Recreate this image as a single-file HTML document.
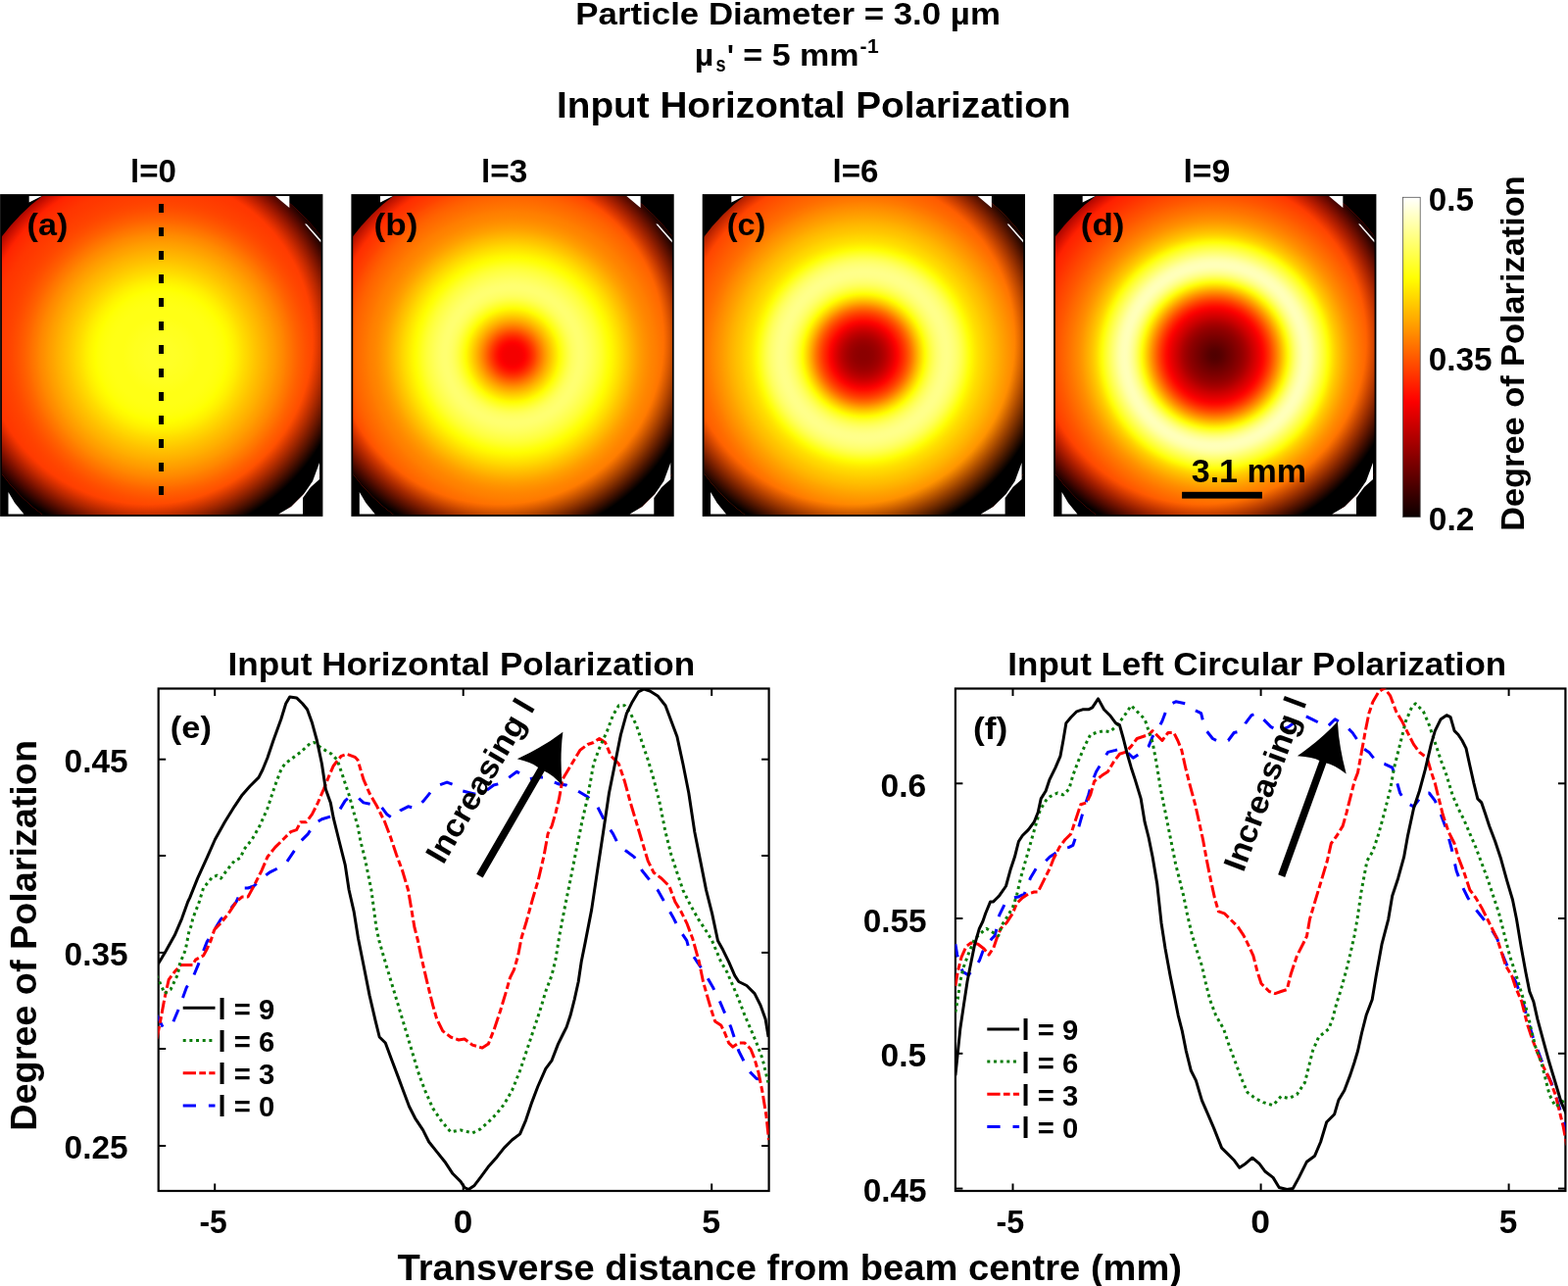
<!DOCTYPE html>
<html><head><meta charset="utf-8"><title>Degree of Polarization</title>
<style>html,body{margin:0;padding:0;background:#fff;width:1600px;height:1312px;overflow:hidden}svg{display:block}</style>
</head><body>
<svg width="1600" height="1312" viewBox="0 0 1600 1312">
<defs>
<radialGradient id="ga" gradientUnits="userSpaceOnUse" cx="164.8" cy="362.5" r="240.0" gradientTransform="translate(0 0.00) scale(1 1.0)"><stop offset="0.0000" stop-color="#ffff22"/><stop offset="0.0104" stop-color="#ffff23"/><stop offset="0.0208" stop-color="#ffff23"/><stop offset="0.0312" stop-color="#ffff25"/><stop offset="0.0417" stop-color="#ffff26"/><stop offset="0.0521" stop-color="#ffff26"/><stop offset="0.0625" stop-color="#ffff25"/><stop offset="0.0729" stop-color="#ffff24"/><stop offset="0.0833" stop-color="#ffff22"/><stop offset="0.0938" stop-color="#ffff21"/><stop offset="0.1042" stop-color="#ffff1f"/><stop offset="0.1146" stop-color="#ffff1f"/><stop offset="0.1250" stop-color="#ffff1d"/><stop offset="0.1354" stop-color="#ffff1b"/><stop offset="0.1458" stop-color="#ffff19"/><stop offset="0.1562" stop-color="#ffff17"/><stop offset="0.1667" stop-color="#ffff15"/><stop offset="0.1771" stop-color="#ffff15"/><stop offset="0.1875" stop-color="#ffff15"/><stop offset="0.1979" stop-color="#ffff15"/><stop offset="0.2083" stop-color="#ffff15"/><stop offset="0.2188" stop-color="#ffff14"/><stop offset="0.2292" stop-color="#ffff12"/><stop offset="0.2396" stop-color="#ffff10"/><stop offset="0.2500" stop-color="#ffff0d"/><stop offset="0.2604" stop-color="#ffff0a"/><stop offset="0.2708" stop-color="#ffff06"/><stop offset="0.2812" stop-color="#ffff00"/><stop offset="0.2917" stop-color="#fffb00"/><stop offset="0.3021" stop-color="#fff700"/><stop offset="0.3125" stop-color="#fff200"/><stop offset="0.3229" stop-color="#ffed00"/><stop offset="0.3333" stop-color="#ffe700"/><stop offset="0.3438" stop-color="#ffe100"/><stop offset="0.3542" stop-color="#ffdb00"/><stop offset="0.3646" stop-color="#ffd600"/><stop offset="0.3750" stop-color="#ffd000"/><stop offset="0.3854" stop-color="#ffcb00"/><stop offset="0.3958" stop-color="#ffc500"/><stop offset="0.4062" stop-color="#ffc000"/><stop offset="0.4167" stop-color="#ffbb00"/><stop offset="0.4271" stop-color="#ffb600"/><stop offset="0.4375" stop-color="#ffb100"/><stop offset="0.4479" stop-color="#ffac00"/><stop offset="0.4583" stop-color="#ffa600"/><stop offset="0.4688" stop-color="#ffa100"/><stop offset="0.4792" stop-color="#ff9c00"/><stop offset="0.4896" stop-color="#ff9600"/><stop offset="0.5000" stop-color="#ff9000"/><stop offset="0.5104" stop-color="#ff8b00"/><stop offset="0.5208" stop-color="#ff8500"/><stop offset="0.5312" stop-color="#ff7e00"/><stop offset="0.5417" stop-color="#ff7800"/><stop offset="0.5521" stop-color="#ff7200"/><stop offset="0.5625" stop-color="#ff6b00"/><stop offset="0.5729" stop-color="#ff6500"/><stop offset="0.5833" stop-color="#ff5f00"/><stop offset="0.5938" stop-color="#ff5a00"/><stop offset="0.6042" stop-color="#ff5500"/><stop offset="0.6146" stop-color="#ff5000"/><stop offset="0.6250" stop-color="#ff4c00"/><stop offset="0.6354" stop-color="#ff4800"/><stop offset="0.6458" stop-color="#ff4500"/><stop offset="0.6562" stop-color="#ff4200"/><stop offset="0.6667" stop-color="#ff4000"/><stop offset="0.6771" stop-color="#ff3e00"/><stop offset="0.6875" stop-color="#ff3c00"/><stop offset="0.6979" stop-color="#ff3a00"/><stop offset="0.7083" stop-color="#ff3800"/><stop offset="0.7188" stop-color="#ff3700"/><stop offset="0.7292" stop-color="#ff3500"/><stop offset="0.7396" stop-color="#ff3200"/><stop offset="0.7500" stop-color="#ff2f00"/><stop offset="0.7604" stop-color="#ff2c00"/><stop offset="0.7708" stop-color="#ff2900"/><stop offset="0.7812" stop-color="#ff2500"/><stop offset="0.7917" stop-color="#ff2100"/><stop offset="0.8021" stop-color="#ff1d00"/><stop offset="0.8125" stop-color="#ff1900"/><stop offset="0.8229" stop-color="#ff1500"/><stop offset="0.8333" stop-color="#ff1000"/><stop offset="0.8438" stop-color="#ff0c00"/><stop offset="0.8542" stop-color="#ff0800"/><stop offset="0.8646" stop-color="#ff0400"/><stop offset="0.8750" stop-color="#ff0000"/><stop offset="0.8854" stop-color="#fa0000"/><stop offset="0.8958" stop-color="#f60000"/><stop offset="0.9062" stop-color="#f20000"/><stop offset="0.9167" stop-color="#ee0000"/><stop offset="0.9271" stop-color="#ea0000"/><stop offset="0.9375" stop-color="#e50000"/><stop offset="0.9479" stop-color="#e30000"/><stop offset="0.9583" stop-color="#e10000"/><stop offset="0.9688" stop-color="#df0000"/><stop offset="0.9792" stop-color="#dd0000"/><stop offset="0.9896" stop-color="#db0000"/><stop offset="1.0000" stop-color="#d90000"/></radialGradient>
<radialGradient id="va" gradientUnits="userSpaceOnUse" cx="150.8" cy="346.5" r="220"><stop offset="0" stop-color="#000" stop-opacity="0"/><stop offset="0.7636" stop-color="#000" stop-opacity="0.000"/><stop offset="0.7723" stop-color="#000" stop-opacity="0.037"/><stop offset="0.7809" stop-color="#000" stop-opacity="0.079"/><stop offset="0.7895" stop-color="#000" stop-opacity="0.124"/><stop offset="0.7982" stop-color="#000" stop-opacity="0.170"/><stop offset="0.8068" stop-color="#000" stop-opacity="0.218"/><stop offset="0.8155" stop-color="#000" stop-opacity="0.266"/><stop offset="0.8241" stop-color="#000" stop-opacity="0.315"/><stop offset="0.8327" stop-color="#000" stop-opacity="0.365"/><stop offset="0.8414" stop-color="#000" stop-opacity="0.415"/><stop offset="0.8500" stop-color="#000" stop-opacity="0.467"/><stop offset="0.8586" stop-color="#000" stop-opacity="0.518"/><stop offset="0.8673" stop-color="#000" stop-opacity="0.570"/><stop offset="0.8759" stop-color="#000" stop-opacity="0.623"/><stop offset="0.8845" stop-color="#000" stop-opacity="0.675"/><stop offset="0.8932" stop-color="#000" stop-opacity="0.729"/><stop offset="0.9018" stop-color="#000" stop-opacity="0.782"/><stop offset="0.9105" stop-color="#000" stop-opacity="0.836"/><stop offset="0.9191" stop-color="#000" stop-opacity="0.891"/><stop offset="0.9277" stop-color="#000" stop-opacity="0.945"/><stop offset="0.9364" stop-color="#000" stop-opacity="1.000"/></radialGradient>
<clipPath id="ca"><rect x="1.0" y="199.0" width="327.5" height="327.0"/></clipPath>
<radialGradient id="gb" gradientUnits="userSpaceOnUse" cx="523.0" cy="362.5" r="240.0" gradientTransform="translate(0 0.00) scale(1 1.0)"><stop offset="0.0000" stop-color="#f40000"/><stop offset="0.0104" stop-color="#f40000"/><stop offset="0.0208" stop-color="#f40000"/><stop offset="0.0312" stop-color="#f50000"/><stop offset="0.0417" stop-color="#f80000"/><stop offset="0.0521" stop-color="#ff0100"/><stop offset="0.0625" stop-color="#ff0c00"/><stop offset="0.0729" stop-color="#ff1b00"/><stop offset="0.0833" stop-color="#ff2d00"/><stop offset="0.0938" stop-color="#ff4000"/><stop offset="0.1042" stop-color="#ff5600"/><stop offset="0.1146" stop-color="#ff6b00"/><stop offset="0.1250" stop-color="#ff8000"/><stop offset="0.1354" stop-color="#ff9400"/><stop offset="0.1458" stop-color="#ffa700"/><stop offset="0.1562" stop-color="#ffb900"/><stop offset="0.1667" stop-color="#ffca00"/><stop offset="0.1771" stop-color="#ffdb00"/><stop offset="0.1875" stop-color="#ffeb00"/><stop offset="0.1979" stop-color="#fffc00"/><stop offset="0.2083" stop-color="#ffff13"/><stop offset="0.2188" stop-color="#ffff28"/><stop offset="0.2292" stop-color="#ffff3c"/><stop offset="0.2396" stop-color="#ffff4e"/><stop offset="0.2500" stop-color="#ffff5c"/><stop offset="0.2604" stop-color="#ffff66"/><stop offset="0.2708" stop-color="#ffff6c"/><stop offset="0.2812" stop-color="#ffff71"/><stop offset="0.2917" stop-color="#ffff71"/><stop offset="0.3021" stop-color="#ffff6e"/><stop offset="0.3125" stop-color="#ffff68"/><stop offset="0.3229" stop-color="#ffff61"/><stop offset="0.3333" stop-color="#ffff59"/><stop offset="0.3438" stop-color="#ffff50"/><stop offset="0.3542" stop-color="#ffff47"/><stop offset="0.3646" stop-color="#ffff3d"/><stop offset="0.3750" stop-color="#ffff31"/><stop offset="0.3854" stop-color="#ffff24"/><stop offset="0.3958" stop-color="#ffff15"/><stop offset="0.4062" stop-color="#ffff08"/><stop offset="0.4167" stop-color="#fffc00"/><stop offset="0.4271" stop-color="#fff500"/><stop offset="0.4375" stop-color="#ffed00"/><stop offset="0.4479" stop-color="#ffe500"/><stop offset="0.4583" stop-color="#ffdd00"/><stop offset="0.4688" stop-color="#ffd500"/><stop offset="0.4792" stop-color="#ffcc00"/><stop offset="0.4896" stop-color="#ffc400"/><stop offset="0.5000" stop-color="#ffbc00"/><stop offset="0.5104" stop-color="#ffb400"/><stop offset="0.5208" stop-color="#ffac00"/><stop offset="0.5312" stop-color="#ffa400"/><stop offset="0.5417" stop-color="#ff9d00"/><stop offset="0.5521" stop-color="#ff9700"/><stop offset="0.5625" stop-color="#ff9100"/><stop offset="0.5729" stop-color="#ff8c00"/><stop offset="0.5833" stop-color="#ff8700"/><stop offset="0.5938" stop-color="#ff8300"/><stop offset="0.6042" stop-color="#ff8000"/><stop offset="0.6146" stop-color="#ff7c00"/><stop offset="0.6250" stop-color="#ff7700"/><stop offset="0.6354" stop-color="#ff7300"/><stop offset="0.6458" stop-color="#ff6f00"/><stop offset="0.6562" stop-color="#ff6b00"/><stop offset="0.6667" stop-color="#ff6700"/><stop offset="0.6771" stop-color="#ff6300"/><stop offset="0.6875" stop-color="#ff5e00"/><stop offset="0.6979" stop-color="#ff5900"/><stop offset="0.7083" stop-color="#ff5300"/><stop offset="0.7188" stop-color="#ff4e00"/><stop offset="0.7292" stop-color="#ff4700"/><stop offset="0.7396" stop-color="#ff4100"/><stop offset="0.7500" stop-color="#ff3d00"/><stop offset="0.7604" stop-color="#ff3800"/><stop offset="0.7708" stop-color="#ff3400"/><stop offset="0.7812" stop-color="#ff3000"/><stop offset="0.7917" stop-color="#ff2c00"/><stop offset="0.8021" stop-color="#ff2800"/><stop offset="0.8125" stop-color="#ff2300"/><stop offset="0.8229" stop-color="#ff1f00"/><stop offset="0.8333" stop-color="#ff1b00"/><stop offset="0.8438" stop-color="#ff1700"/><stop offset="0.8542" stop-color="#ff1300"/><stop offset="0.8646" stop-color="#ff0f00"/><stop offset="0.8750" stop-color="#ff0a00"/><stop offset="0.8854" stop-color="#ff0600"/><stop offset="0.8958" stop-color="#ff0200"/><stop offset="0.9062" stop-color="#fd0000"/><stop offset="0.9167" stop-color="#f90000"/><stop offset="0.9271" stop-color="#f40000"/><stop offset="0.9375" stop-color="#f00000"/><stop offset="0.9479" stop-color="#ee0000"/><stop offset="0.9583" stop-color="#ec0000"/><stop offset="0.9688" stop-color="#ea0000"/><stop offset="0.9792" stop-color="#e80000"/><stop offset="0.9896" stop-color="#e60000"/><stop offset="1.0000" stop-color="#e40000"/></radialGradient>
<radialGradient id="vb" gradientUnits="userSpaceOnUse" cx="509.0" cy="346.5" r="220"><stop offset="0" stop-color="#000" stop-opacity="0"/><stop offset="0.7636" stop-color="#000" stop-opacity="0.000"/><stop offset="0.7723" stop-color="#000" stop-opacity="0.037"/><stop offset="0.7809" stop-color="#000" stop-opacity="0.079"/><stop offset="0.7895" stop-color="#000" stop-opacity="0.124"/><stop offset="0.7982" stop-color="#000" stop-opacity="0.170"/><stop offset="0.8068" stop-color="#000" stop-opacity="0.218"/><stop offset="0.8155" stop-color="#000" stop-opacity="0.266"/><stop offset="0.8241" stop-color="#000" stop-opacity="0.315"/><stop offset="0.8327" stop-color="#000" stop-opacity="0.365"/><stop offset="0.8414" stop-color="#000" stop-opacity="0.415"/><stop offset="0.8500" stop-color="#000" stop-opacity="0.467"/><stop offset="0.8586" stop-color="#000" stop-opacity="0.518"/><stop offset="0.8673" stop-color="#000" stop-opacity="0.570"/><stop offset="0.8759" stop-color="#000" stop-opacity="0.623"/><stop offset="0.8845" stop-color="#000" stop-opacity="0.675"/><stop offset="0.8932" stop-color="#000" stop-opacity="0.729"/><stop offset="0.9018" stop-color="#000" stop-opacity="0.782"/><stop offset="0.9105" stop-color="#000" stop-opacity="0.836"/><stop offset="0.9191" stop-color="#000" stop-opacity="0.891"/><stop offset="0.9277" stop-color="#000" stop-opacity="0.945"/><stop offset="0.9364" stop-color="#000" stop-opacity="1.000"/></radialGradient>
<clipPath id="cb"><rect x="359.3" y="199.0" width="327.5" height="327.0"/></clipPath>
<radialGradient id="gc" gradientUnits="userSpaceOnUse" cx="881.4" cy="362.5" r="240.0" gradientTransform="translate(0 0.00) scale(1 1.0)"><stop offset="0.0000" stop-color="#8b0000"/><stop offset="0.0104" stop-color="#8b0000"/><stop offset="0.0208" stop-color="#8c0000"/><stop offset="0.0312" stop-color="#8f0000"/><stop offset="0.0417" stop-color="#920000"/><stop offset="0.0521" stop-color="#980000"/><stop offset="0.0625" stop-color="#9e0000"/><stop offset="0.0729" stop-color="#a60000"/><stop offset="0.0833" stop-color="#b00000"/><stop offset="0.0938" stop-color="#bb0000"/><stop offset="0.1042" stop-color="#c80000"/><stop offset="0.1146" stop-color="#d60000"/><stop offset="0.1250" stop-color="#e50000"/><stop offset="0.1354" stop-color="#f60000"/><stop offset="0.1458" stop-color="#ff0700"/><stop offset="0.1562" stop-color="#ff1900"/><stop offset="0.1667" stop-color="#ff2a00"/><stop offset="0.1771" stop-color="#ff3d00"/><stop offset="0.1875" stop-color="#ff5200"/><stop offset="0.1979" stop-color="#ff6900"/><stop offset="0.2083" stop-color="#ff8200"/><stop offset="0.2188" stop-color="#ff9d00"/><stop offset="0.2292" stop-color="#ffb700"/><stop offset="0.2396" stop-color="#ffd000"/><stop offset="0.2500" stop-color="#ffe800"/><stop offset="0.2604" stop-color="#fffe00"/><stop offset="0.2708" stop-color="#ffff1e"/><stop offset="0.2812" stop-color="#ffff39"/><stop offset="0.2917" stop-color="#ffff50"/><stop offset="0.3021" stop-color="#ffff63"/><stop offset="0.3125" stop-color="#ffff72"/><stop offset="0.3229" stop-color="#ffff7d"/><stop offset="0.3333" stop-color="#ffff86"/><stop offset="0.3438" stop-color="#ffff8a"/><stop offset="0.3542" stop-color="#ffff8b"/><stop offset="0.3646" stop-color="#ffff87"/><stop offset="0.3750" stop-color="#ffff80"/><stop offset="0.3854" stop-color="#ffff77"/><stop offset="0.3958" stop-color="#ffff6b"/><stop offset="0.4062" stop-color="#ffff5c"/><stop offset="0.4167" stop-color="#ffff4a"/><stop offset="0.4271" stop-color="#ffff35"/><stop offset="0.4375" stop-color="#ffff1f"/><stop offset="0.4479" stop-color="#ffff09"/><stop offset="0.4583" stop-color="#fff800"/><stop offset="0.4688" stop-color="#ffee00"/><stop offset="0.4792" stop-color="#ffe500"/><stop offset="0.4896" stop-color="#ffdd00"/><stop offset="0.5000" stop-color="#ffd700"/><stop offset="0.5104" stop-color="#ffd100"/><stop offset="0.5208" stop-color="#ffca00"/><stop offset="0.5312" stop-color="#ffc400"/><stop offset="0.5417" stop-color="#ffbf00"/><stop offset="0.5521" stop-color="#ffb900"/><stop offset="0.5625" stop-color="#ffb300"/><stop offset="0.5729" stop-color="#ffad00"/><stop offset="0.5833" stop-color="#ffa600"/><stop offset="0.5938" stop-color="#ffa000"/><stop offset="0.6042" stop-color="#ff9a00"/><stop offset="0.6146" stop-color="#ff9400"/><stop offset="0.6250" stop-color="#ff8e00"/><stop offset="0.6354" stop-color="#ff8800"/><stop offset="0.6458" stop-color="#ff8200"/><stop offset="0.6562" stop-color="#ff7b00"/><stop offset="0.6667" stop-color="#ff7600"/><stop offset="0.6771" stop-color="#ff7000"/><stop offset="0.6875" stop-color="#ff6b00"/><stop offset="0.6979" stop-color="#ff6700"/><stop offset="0.7083" stop-color="#ff6300"/><stop offset="0.7188" stop-color="#ff5f00"/><stop offset="0.7292" stop-color="#ff5b00"/><stop offset="0.7396" stop-color="#ff5700"/><stop offset="0.7500" stop-color="#ff5300"/><stop offset="0.7604" stop-color="#ff4f00"/><stop offset="0.7708" stop-color="#ff4b00"/><stop offset="0.7812" stop-color="#ff4700"/><stop offset="0.7917" stop-color="#ff4300"/><stop offset="0.8021" stop-color="#ff3e00"/><stop offset="0.8125" stop-color="#ff3a00"/><stop offset="0.8229" stop-color="#ff3600"/><stop offset="0.8333" stop-color="#ff3200"/><stop offset="0.8438" stop-color="#ff2e00"/><stop offset="0.8542" stop-color="#ff2900"/><stop offset="0.8646" stop-color="#ff2500"/><stop offset="0.8750" stop-color="#ff2100"/><stop offset="0.8854" stop-color="#ff1d00"/><stop offset="0.8958" stop-color="#ff1900"/><stop offset="0.9062" stop-color="#ff1400"/><stop offset="0.9167" stop-color="#ff1000"/><stop offset="0.9271" stop-color="#ff0c00"/><stop offset="0.9375" stop-color="#ff0800"/><stop offset="0.9479" stop-color="#ff0600"/><stop offset="0.9583" stop-color="#ff0400"/><stop offset="0.9688" stop-color="#ff0200"/><stop offset="0.9792" stop-color="#ff0000"/><stop offset="0.9896" stop-color="#fc0000"/><stop offset="1.0000" stop-color="#fa0000"/></radialGradient>
<radialGradient id="vc" gradientUnits="userSpaceOnUse" cx="867.4" cy="346.5" r="220"><stop offset="0" stop-color="#000" stop-opacity="0"/><stop offset="0.7636" stop-color="#000" stop-opacity="0.000"/><stop offset="0.7723" stop-color="#000" stop-opacity="0.037"/><stop offset="0.7809" stop-color="#000" stop-opacity="0.079"/><stop offset="0.7895" stop-color="#000" stop-opacity="0.124"/><stop offset="0.7982" stop-color="#000" stop-opacity="0.170"/><stop offset="0.8068" stop-color="#000" stop-opacity="0.218"/><stop offset="0.8155" stop-color="#000" stop-opacity="0.266"/><stop offset="0.8241" stop-color="#000" stop-opacity="0.315"/><stop offset="0.8327" stop-color="#000" stop-opacity="0.365"/><stop offset="0.8414" stop-color="#000" stop-opacity="0.415"/><stop offset="0.8500" stop-color="#000" stop-opacity="0.467"/><stop offset="0.8586" stop-color="#000" stop-opacity="0.518"/><stop offset="0.8673" stop-color="#000" stop-opacity="0.570"/><stop offset="0.8759" stop-color="#000" stop-opacity="0.623"/><stop offset="0.8845" stop-color="#000" stop-opacity="0.675"/><stop offset="0.8932" stop-color="#000" stop-opacity="0.729"/><stop offset="0.9018" stop-color="#000" stop-opacity="0.782"/><stop offset="0.9105" stop-color="#000" stop-opacity="0.836"/><stop offset="0.9191" stop-color="#000" stop-opacity="0.891"/><stop offset="0.9277" stop-color="#000" stop-opacity="0.945"/><stop offset="0.9364" stop-color="#000" stop-opacity="1.000"/></radialGradient>
<clipPath id="cc"><rect x="717.6" y="199.0" width="327.5" height="327.0"/></clipPath>
<radialGradient id="gd" gradientUnits="userSpaceOnUse" cx="1239.8" cy="362.5" r="240.0" gradientTransform="translate(0 0.00) scale(1 1.0)"><stop offset="0.0000" stop-color="#4f0000"/><stop offset="0.0104" stop-color="#510000"/><stop offset="0.0208" stop-color="#540000"/><stop offset="0.0312" stop-color="#590000"/><stop offset="0.0417" stop-color="#600000"/><stop offset="0.0521" stop-color="#670000"/><stop offset="0.0625" stop-color="#6e0000"/><stop offset="0.0729" stop-color="#750000"/><stop offset="0.0833" stop-color="#7c0000"/><stop offset="0.0938" stop-color="#840000"/><stop offset="0.1042" stop-color="#8b0000"/><stop offset="0.1146" stop-color="#940000"/><stop offset="0.1250" stop-color="#9e0000"/><stop offset="0.1354" stop-color="#a90000"/><stop offset="0.1458" stop-color="#b60000"/><stop offset="0.1562" stop-color="#c40000"/><stop offset="0.1667" stop-color="#d10000"/><stop offset="0.1771" stop-color="#de0000"/><stop offset="0.1875" stop-color="#eb0000"/><stop offset="0.1979" stop-color="#fa0000"/><stop offset="0.2083" stop-color="#ff0b00"/><stop offset="0.2188" stop-color="#ff1e00"/><stop offset="0.2292" stop-color="#ff3300"/><stop offset="0.2396" stop-color="#ff4a00"/><stop offset="0.2500" stop-color="#ff6300"/><stop offset="0.2604" stop-color="#ff7d00"/><stop offset="0.2708" stop-color="#ff9700"/><stop offset="0.2812" stop-color="#ffb300"/><stop offset="0.2917" stop-color="#ffcf00"/><stop offset="0.3021" stop-color="#ffeb00"/><stop offset="0.3125" stop-color="#ffff0e"/><stop offset="0.3229" stop-color="#ffff37"/><stop offset="0.3333" stop-color="#ffff5e"/><stop offset="0.3438" stop-color="#ffff7f"/><stop offset="0.3542" stop-color="#ffff98"/><stop offset="0.3646" stop-color="#ffffab"/><stop offset="0.3750" stop-color="#ffffb8"/><stop offset="0.3854" stop-color="#ffffbb"/><stop offset="0.3958" stop-color="#ffffb6"/><stop offset="0.4062" stop-color="#ffffab"/><stop offset="0.4167" stop-color="#ffff99"/><stop offset="0.4271" stop-color="#ffff83"/><stop offset="0.4375" stop-color="#ffff6d"/><stop offset="0.4479" stop-color="#ffff56"/><stop offset="0.4583" stop-color="#ffff3e"/><stop offset="0.4688" stop-color="#ffff25"/><stop offset="0.4792" stop-color="#ffff0a"/><stop offset="0.4896" stop-color="#fff300"/><stop offset="0.5000" stop-color="#ffe100"/><stop offset="0.5104" stop-color="#ffd200"/><stop offset="0.5208" stop-color="#ffc500"/><stop offset="0.5312" stop-color="#ffba00"/><stop offset="0.5417" stop-color="#ffaf00"/><stop offset="0.5521" stop-color="#ffa500"/><stop offset="0.5625" stop-color="#ff9b00"/><stop offset="0.5729" stop-color="#ff9200"/><stop offset="0.5833" stop-color="#ff8a00"/><stop offset="0.5938" stop-color="#ff8300"/><stop offset="0.6042" stop-color="#ff7c00"/><stop offset="0.6146" stop-color="#ff7500"/><stop offset="0.6250" stop-color="#ff6f00"/><stop offset="0.6354" stop-color="#ff6900"/><stop offset="0.6458" stop-color="#ff6300"/><stop offset="0.6562" stop-color="#ff5d00"/><stop offset="0.6667" stop-color="#ff5700"/><stop offset="0.6771" stop-color="#ff5200"/><stop offset="0.6875" stop-color="#ff4d00"/><stop offset="0.6979" stop-color="#ff4800"/><stop offset="0.7083" stop-color="#ff4300"/><stop offset="0.7188" stop-color="#ff3e00"/><stop offset="0.7292" stop-color="#ff3900"/><stop offset="0.7396" stop-color="#ff3400"/><stop offset="0.7500" stop-color="#ff2f00"/><stop offset="0.7604" stop-color="#ff2b00"/><stop offset="0.7708" stop-color="#ff2700"/><stop offset="0.7812" stop-color="#ff2300"/><stop offset="0.7917" stop-color="#ff1f00"/><stop offset="0.8021" stop-color="#ff1a00"/><stop offset="0.8125" stop-color="#ff1600"/><stop offset="0.8229" stop-color="#ff1200"/><stop offset="0.8333" stop-color="#ff0e00"/><stop offset="0.8438" stop-color="#ff0a00"/><stop offset="0.8542" stop-color="#ff0600"/><stop offset="0.8646" stop-color="#ff0100"/><stop offset="0.8750" stop-color="#fc0000"/><stop offset="0.8854" stop-color="#f80000"/><stop offset="0.8958" stop-color="#f40000"/><stop offset="0.9062" stop-color="#f00000"/><stop offset="0.9167" stop-color="#eb0000"/><stop offset="0.9271" stop-color="#e70000"/><stop offset="0.9375" stop-color="#e30000"/><stop offset="0.9479" stop-color="#e10000"/><stop offset="0.9583" stop-color="#df0000"/><stop offset="0.9688" stop-color="#dd0000"/><stop offset="0.9792" stop-color="#db0000"/><stop offset="0.9896" stop-color="#d80000"/><stop offset="1.0000" stop-color="#d60000"/></radialGradient>
<radialGradient id="vd" gradientUnits="userSpaceOnUse" cx="1225.8" cy="346.5" r="220"><stop offset="0" stop-color="#000" stop-opacity="0"/><stop offset="0.7636" stop-color="#000" stop-opacity="0.000"/><stop offset="0.7723" stop-color="#000" stop-opacity="0.037"/><stop offset="0.7809" stop-color="#000" stop-opacity="0.079"/><stop offset="0.7895" stop-color="#000" stop-opacity="0.124"/><stop offset="0.7982" stop-color="#000" stop-opacity="0.170"/><stop offset="0.8068" stop-color="#000" stop-opacity="0.218"/><stop offset="0.8155" stop-color="#000" stop-opacity="0.266"/><stop offset="0.8241" stop-color="#000" stop-opacity="0.315"/><stop offset="0.8327" stop-color="#000" stop-opacity="0.365"/><stop offset="0.8414" stop-color="#000" stop-opacity="0.415"/><stop offset="0.8500" stop-color="#000" stop-opacity="0.467"/><stop offset="0.8586" stop-color="#000" stop-opacity="0.518"/><stop offset="0.8673" stop-color="#000" stop-opacity="0.570"/><stop offset="0.8759" stop-color="#000" stop-opacity="0.623"/><stop offset="0.8845" stop-color="#000" stop-opacity="0.675"/><stop offset="0.8932" stop-color="#000" stop-opacity="0.729"/><stop offset="0.9018" stop-color="#000" stop-opacity="0.782"/><stop offset="0.9105" stop-color="#000" stop-opacity="0.836"/><stop offset="0.9191" stop-color="#000" stop-opacity="0.891"/><stop offset="0.9277" stop-color="#000" stop-opacity="0.945"/><stop offset="0.9364" stop-color="#000" stop-opacity="1.000"/></radialGradient>
<clipPath id="cd"><rect x="1076.0" y="199.0" width="327.5" height="327.0"/></clipPath>
<linearGradient id="cbar" x1="0" y1="0" x2="0" y2="1"><stop offset="0.0000" stop-color="#ffffff"/><stop offset="0.0156" stop-color="#ffffef"/><stop offset="0.0312" stop-color="#ffffe0"/><stop offset="0.0469" stop-color="#ffffd0"/><stop offset="0.0625" stop-color="#ffffc0"/><stop offset="0.0781" stop-color="#ffffb1"/><stop offset="0.0938" stop-color="#ffffa1"/><stop offset="0.1094" stop-color="#ffff91"/><stop offset="0.1250" stop-color="#ffff81"/><stop offset="0.1406" stop-color="#ffff72"/><stop offset="0.1562" stop-color="#ffff62"/><stop offset="0.1719" stop-color="#ffff52"/><stop offset="0.1875" stop-color="#ffff43"/><stop offset="0.2031" stop-color="#ffff33"/><stop offset="0.2188" stop-color="#ffff23"/><stop offset="0.2344" stop-color="#ffff14"/><stop offset="0.2500" stop-color="#ffff04"/><stop offset="0.2656" stop-color="#fff700"/><stop offset="0.2812" stop-color="#ffed00"/><stop offset="0.2969" stop-color="#ffe200"/><stop offset="0.3125" stop-color="#ffd800"/><stop offset="0.3281" stop-color="#ffcd00"/><stop offset="0.3438" stop-color="#ffc300"/><stop offset="0.3594" stop-color="#ffb800"/><stop offset="0.3750" stop-color="#ffae00"/><stop offset="0.3906" stop-color="#ffa400"/><stop offset="0.4062" stop-color="#ff9900"/><stop offset="0.4219" stop-color="#ff8f00"/><stop offset="0.4375" stop-color="#ff8400"/><stop offset="0.4531" stop-color="#ff7a00"/><stop offset="0.4688" stop-color="#ff6f00"/><stop offset="0.4844" stop-color="#ff6500"/><stop offset="0.5000" stop-color="#ff5a00"/><stop offset="0.5156" stop-color="#ff5000"/><stop offset="0.5312" stop-color="#ff4500"/><stop offset="0.5469" stop-color="#ff3b00"/><stop offset="0.5625" stop-color="#ff3000"/><stop offset="0.5781" stop-color="#ff2600"/><stop offset="0.5938" stop-color="#ff1c00"/><stop offset="0.6094" stop-color="#ff1100"/><stop offset="0.6250" stop-color="#ff0700"/><stop offset="0.6406" stop-color="#fb0000"/><stop offset="0.6562" stop-color="#f10000"/><stop offset="0.6719" stop-color="#e60000"/><stop offset="0.6875" stop-color="#dc0000"/><stop offset="0.7031" stop-color="#d10000"/><stop offset="0.7188" stop-color="#c70000"/><stop offset="0.7344" stop-color="#bc0000"/><stop offset="0.7500" stop-color="#b20000"/><stop offset="0.7656" stop-color="#a80000"/><stop offset="0.7812" stop-color="#9d0000"/><stop offset="0.7969" stop-color="#930000"/><stop offset="0.8125" stop-color="#880000"/><stop offset="0.8281" stop-color="#7e0000"/><stop offset="0.8438" stop-color="#730000"/><stop offset="0.8594" stop-color="#690000"/><stop offset="0.8750" stop-color="#5e0000"/><stop offset="0.8906" stop-color="#540000"/><stop offset="0.9062" stop-color="#490000"/><stop offset="0.9219" stop-color="#3f0000"/><stop offset="0.9375" stop-color="#340000"/><stop offset="0.9531" stop-color="#2a0000"/><stop offset="0.9688" stop-color="#200000"/><stop offset="0.9844" stop-color="#150000"/><stop offset="1.0000" stop-color="#0b0000"/></linearGradient>
<clipPath id="ce"><rect x="161.3" y="702.5" width="623.3" height="512.1"/></clipPath>
<clipPath id="cf"><rect x="974.6" y="702.5" width="622.8" height="512.1"/></clipPath>
</defs>
<rect width="1600" height="1312" fill="#fff"/>
<g clip-path="url(#ca)"><rect x="1.0" y="199.0" width="327.5" height="327.0" fill="#000"/><circle cx="164.8" cy="362.5" r="203.0" fill="url(#ga)"/><circle cx="164.8" cy="362.5" r="203.0" fill="url(#va)"/><polygon points="29.7,200.0 42.7,200.0 29.7,206.5" fill="#fff"/><polygon points="281.0,200.0 295.3,200.0 295.3,212.0" fill="#fff"/><polygon points="326.0,472.0 326.0,489.0 317.0,497.0 309.0,508.0 309.0,524.5 284.2,524.5 297.0,517.0 310.0,504.0 319.0,491.0" fill="#fff"/><polygon points="8.5,502.0 8.5,524.5 24.4,524.5 15.0,513.0" fill="#fff"/><polygon points="311.0,228.5 312.8,228.5 327.5,245.0 327.5,247.5" fill="#fff"/></g>
<rect x="1.0" y="199.0" width="327.5" height="327.0" fill="none" stroke="#000" stroke-width="1.8"/>
<g clip-path="url(#cb)"><rect x="359.3" y="199.0" width="327.5" height="327.0" fill="#000"/><circle cx="523.0" cy="362.5" r="203.0" fill="url(#gb)"/><circle cx="523.0" cy="362.5" r="203.0" fill="url(#vb)"/><polygon points="388.0,200.0 401.0,200.0 388.0,206.5" fill="#fff"/><polygon points="639.3,200.0 653.6,200.0 653.6,212.0" fill="#fff"/><polygon points="684.3,472.0 684.3,489.0 675.3,497.0 667.3,508.0 667.3,524.5 642.5,524.5 655.3,517.0 668.3,504.0 677.3,491.0" fill="#fff"/><polygon points="366.8,502.0 366.8,524.5 382.7,524.5 373.3,513.0" fill="#fff"/><polygon points="669.3,228.5 671.1,228.5 685.8,245.0 685.8,247.5" fill="#fff"/></g>
<rect x="359.3" y="199.0" width="327.5" height="327.0" fill="none" stroke="#000" stroke-width="1.8"/>
<g clip-path="url(#cc)"><rect x="717.6" y="199.0" width="327.5" height="327.0" fill="#000"/><circle cx="881.4" cy="362.5" r="203.0" fill="url(#gc)"/><circle cx="881.4" cy="362.5" r="203.0" fill="url(#vc)"/><polygon points="746.3,200.0 759.3,200.0 746.3,206.5" fill="#fff"/><polygon points="997.6,200.0 1011.9,200.0 1011.9,212.0" fill="#fff"/><polygon points="1042.6,472.0 1042.6,489.0 1033.6,497.0 1025.6,508.0 1025.6,524.5 1000.8,524.5 1013.6,517.0 1026.6,504.0 1035.6,491.0" fill="#fff"/><polygon points="725.1,502.0 725.1,524.5 741.0,524.5 731.6,513.0" fill="#fff"/><polygon points="1027.6,228.5 1029.4,228.5 1044.1,245.0 1044.1,247.5" fill="#fff"/></g>
<rect x="717.6" y="199.0" width="327.5" height="327.0" fill="none" stroke="#000" stroke-width="1.8"/>
<g clip-path="url(#cd)"><rect x="1076.0" y="199.0" width="327.5" height="327.0" fill="#000"/><circle cx="1239.8" cy="362.5" r="203.0" fill="url(#gd)"/><circle cx="1239.8" cy="362.5" r="203.0" fill="url(#vd)"/><polygon points="1104.7,200.0 1117.7,200.0 1104.7,206.5" fill="#fff"/><polygon points="1356.0,200.0 1370.3,200.0 1370.3,212.0" fill="#fff"/><polygon points="1401.0,472.0 1401.0,489.0 1392.0,497.0 1384.0,508.0 1384.0,524.5 1359.2,524.5 1372.0,517.0 1385.0,504.0 1394.0,491.0" fill="#fff"/><polygon points="1083.5,502.0 1083.5,524.5 1099.4,524.5 1090.0,513.0" fill="#fff"/><polygon points="1386.0,228.5 1387.8,228.5 1402.5,245.0 1402.5,247.5" fill="#fff"/></g>
<rect x="1076.0" y="199.0" width="327.5" height="327.0" fill="none" stroke="#000" stroke-width="1.8"/>
<line x1="164.5" y1="208" x2="164.5" y2="512" stroke="#000" stroke-width="5" stroke-dasharray="9 15"/>
<rect x="1206.1" y="501.8" width="81.8" height="6.8" fill="#000"/>
<rect x="1431.4" y="201.3" width="17.8" height="326.3" fill="url(#cbar)" stroke="#555" stroke-width="0.8"/>
<rect x="161.7" y="702.5" width="622.9000000000001" height="512.5" fill="none" stroke="#000" stroke-width="2.2"/>
<line x1="219.2" y1="1215.0" x2="219.2" y2="1207.5" stroke="#000" stroke-width="2"/>
<line x1="219.2" y1="702.5" x2="219.2" y2="710.0" stroke="#000" stroke-width="2"/>
<line x1="472.7" y1="1215.0" x2="472.7" y2="1207.5" stroke="#000" stroke-width="2"/>
<line x1="472.7" y1="702.5" x2="472.7" y2="710.0" stroke="#000" stroke-width="2"/>
<line x1="726.2" y1="1215.0" x2="726.2" y2="1207.5" stroke="#000" stroke-width="2"/>
<line x1="726.2" y1="702.5" x2="726.2" y2="710.0" stroke="#000" stroke-width="2"/>
<line x1="161.7" y1="774.7" x2="169.2" y2="774.7" stroke="#000" stroke-width="2"/>
<line x1="784.6" y1="774.7" x2="777.1" y2="774.7" stroke="#000" stroke-width="2"/>
<line x1="161.7" y1="873" x2="169.2" y2="873" stroke="#000" stroke-width="2"/>
<line x1="784.6" y1="873" x2="777.1" y2="873" stroke="#000" stroke-width="2"/>
<line x1="161.7" y1="971.9" x2="169.2" y2="971.9" stroke="#000" stroke-width="2"/>
<line x1="784.6" y1="971.9" x2="777.1" y2="971.9" stroke="#000" stroke-width="2"/>
<line x1="161.7" y1="1070" x2="169.2" y2="1070" stroke="#000" stroke-width="2"/>
<line x1="784.6" y1="1070" x2="777.1" y2="1070" stroke="#000" stroke-width="2"/>
<line x1="161.7" y1="1169" x2="169.2" y2="1169" stroke="#000" stroke-width="2"/>
<line x1="784.6" y1="1169" x2="777.1" y2="1169" stroke="#000" stroke-width="2"/>
<rect x="974.9" y="702.5" width="622.5000000000001" height="512.5" fill="none" stroke="#000" stroke-width="2.2"/>
<line x1="1033.5" y1="1215.0" x2="1033.5" y2="1207.5" stroke="#000" stroke-width="2"/>
<line x1="1033.5" y1="702.5" x2="1033.5" y2="710.0" stroke="#000" stroke-width="2"/>
<line x1="1286.6" y1="1215.0" x2="1286.6" y2="1207.5" stroke="#000" stroke-width="2"/>
<line x1="1286.6" y1="702.5" x2="1286.6" y2="710.0" stroke="#000" stroke-width="2"/>
<line x1="1539.6" y1="1215.0" x2="1539.6" y2="1207.5" stroke="#000" stroke-width="2"/>
<line x1="1539.6" y1="702.5" x2="1539.6" y2="710.0" stroke="#000" stroke-width="2"/>
<line x1="974.9" y1="799.3" x2="982.4" y2="799.3" stroke="#000" stroke-width="2"/>
<line x1="1597.4" y1="799.3" x2="1589.9" y2="799.3" stroke="#000" stroke-width="2"/>
<line x1="974.9" y1="937" x2="982.4" y2="937" stroke="#000" stroke-width="2"/>
<line x1="1597.4" y1="937" x2="1589.9" y2="937" stroke="#000" stroke-width="2"/>
<line x1="974.9" y1="1074.8" x2="982.4" y2="1074.8" stroke="#000" stroke-width="2"/>
<line x1="1597.4" y1="1074.8" x2="1589.9" y2="1074.8" stroke="#000" stroke-width="2"/>
<line x1="974.9" y1="1212.6" x2="982.4" y2="1212.6" stroke="#000" stroke-width="2"/>
<line x1="1597.4" y1="1212.6" x2="1589.9" y2="1212.6" stroke="#000" stroke-width="2"/>
<g clip-path="url(#ce)">
<polyline points="160.0,1035.8 166.1,1047.9 176.2,1043.9 182.2,1029.7 190.3,1007.5 197.8,995.0 202.1,984.6 207.6,970.0 211.2,960.9 219.4,947.6 225.4,937.7 233.3,929.8 241.2,919.9 247.2,906.0 253.1,906.0 259.0,904.0 267.0,896.1 274.9,890.2 282.8,886.2 290.7,882.3 298.7,870.4 306.6,858.5 314.5,850.6 320.5,840.6 328.4,835.7 338.3,832.7 346.2,826.8 352.2,816.9 358.1,811.9 365.5,813.9 370.9,818.9 380.8,820.8 388.8,822.8 394.7,830.7 400.7,834.7 408.6,826.8 416.5,822.8 424.4,824.8 432.4,816.9 440.3,807.0 448.2,801.0 456.1,798.1 464.0,801.0 472.0,807.0 479.9,809.0 487.8,810.9 495.7,807.0 503.7,801.0 511.6,799.0 519.5,793.1 527.4,787.2 533.4,791.1 539.3,795.1 547.3,793.1 555.2,793.1 563.1,797.1 570.5,800.0 577.9,801.1 589.8,807.0 599.7,813.0 609.6,822.9 617.6,838.8 625.5,850.6 631.4,862.5 639.4,868.5 647.3,874.4 655.2,888.3 663.2,898.2 671.1,908.1 679.0,922.0 686.9,935.9 692.9,947.8 700.8,959.7 703.3,969.1 711.4,981.3 719.5,993.4 727.6,1007.5 733.6,1019.6 739.7,1033.8 745.8,1047.9 749.8,1060.1 753.8,1072.2 759.9,1084.3 766.0,1094.4 772.0,1100.5 784.5,1102.5" fill="none" stroke="#00f" stroke-width="3.0" stroke-dasharray="13.3 12.9" stroke-linejoin="round"/>
<polyline points="160.0,1060.0 164.0,1039.8 168.1,1017.6 172.2,999.3 178.3,991.3 184.4,984.6 196.6,984.6 199.6,979.1 207.6,974.9 211.2,968.2 214.9,960.2 218.5,949.3 219.4,947.6 225.4,941.7 233.3,931.8 241.2,919.9 247.2,914.9 253.1,914.9 259.0,904.0 267.0,888.2 272.9,874.3 280.8,864.4 288.8,856.5 296.7,848.6 302.6,846.6 306.6,838.7 312.5,838.7 318.5,830.7 324.4,818.9 330.4,805.0 334.3,795.1 340.3,781.2 348.2,771.3 354.1,769.3 362.1,772.3 365.0,775.3 370.9,795.1 376.9,809.0 384.8,822.8 392.7,838.7 398.7,854.5 404.6,872.3 410.6,888.2 416.5,908.0 423.0,946.4 426.4,959.5 429.6,975.2 435.7,1001.4 441.7,1025.7 445.8,1039.8 451.8,1051.9 459.9,1058.0 468.0,1061.0 474.0,1060.0 482.1,1066.1 492.2,1069.1 498.3,1065.1 504.3,1049.9 510.4,1031.7 516.5,1011.5 520.5,997.4 524.5,989.3 528.6,975.2 532.0,957.2 537.3,939.7 543.3,917.9 549.2,898.1 555.2,872.3 559.1,850.6 563.1,842.6 567.1,828.8 570.5,814.9 574.0,795.1 579.9,785.2 585.9,775.3 591.8,765.4 599.7,759.5 605.7,757.5 611.6,753.5 617.6,757.5 623.5,771.4 631.4,779.3 637.4,797.1 643.3,818.9 649.3,838.8 655.2,858.6 661.2,878.4 667.1,890.3 675.1,896.2 683.0,904.2 688.9,920.0 694.9,929.9 700.8,941.8 706.8,957.7 713.4,981.3 717.5,1001.5 721.5,1015.6 725.6,1029.7 729.6,1041.9 735.7,1045.9 739.7,1054.0 743.7,1064.1 747.8,1068.1 753.8,1064.1 759.9,1064.1 766.0,1070.2 770.0,1080.3 774.0,1094.4 778.1,1114.6 782.1,1139.8 784.5,1163.1" fill="none" stroke="#f00" stroke-width="3.0" stroke-dasharray="13.3 3.3 6.7 3.3" stroke-linejoin="round"/>
<polyline points="160.0,995.4 168.1,1013.6 174.1,1009.5 181.3,994.4 183.8,981.6 186.8,975.5 189.3,968.8 190.5,962.7 191.7,956.6 193.0,949.9 195.4,943.8 196.6,937.7 199.0,931.0 201.5,924.9 203.3,920.0 207.5,906.0 216.5,895.1 221.4,893.1 225.4,896.1 231.3,888.2 239.2,878.3 245.2,875.3 249.1,866.4 257.1,856.5 265.0,842.6 272.9,824.8 280.8,801.0 286.8,785.2 290.7,779.2 298.7,773.3 306.6,767.4 316.5,758.4 320.5,757.4 328.4,763.4 338.3,769.3 344.2,775.3 350.2,793.1 356.1,810.9 362.1,832.7 365.0,842.6 368.0,858.5 372.9,878.3 378.9,908.0 384.0,946.4 386.8,959.5 391.3,975.2 397.3,995.4 403.4,1015.6 409.4,1035.8 415.5,1056.0 421.5,1076.2 427.6,1096.4 433.7,1112.5 441.7,1130.7 449.8,1142.8 459.9,1154.9 470.0,1152.9 482.1,1155.9 490.2,1151.9 498.3,1144.8 506.4,1136.7 514.4,1126.6 522.5,1112.5 530.6,1092.3 538.7,1068.1 544.7,1049.9 550.8,1031.7 556.8,1011.5 562.9,995.4 566.9,979.2 570.5,956.4 575.9,927.9 581.9,898.2 587.8,868.5 593.8,838.8 599.7,813.0 605.7,779.3 611.6,763.4 619.6,745.6 625.5,729.7 631.4,719.8 637.4,719.8 643.3,727.8 649.3,739.6 655.2,757.5 661.2,775.3 667.1,795.1 673.1,818.9 679.0,848.7 685.0,872.4 690.9,890.3 696.9,908.1 704.8,924.0 712.7,937.9 720.6,949.8 726.6,959.7 735.7,981.3 741.7,991.4 747.8,1005.5 753.8,1019.6 759.9,1035.8 766.0,1049.9 772.0,1064.1 778.1,1080.3 783.8,1104.5" fill="none" stroke="#0a7d0a" stroke-width="3.0" stroke-dasharray="3 3.67" stroke-linejoin="round"/>
<polyline points="161.0,984.0 161.8,982.8 169.1,970.6 178.3,954.1 185.6,937.1 191.7,920.0 193.7,915.9 201.6,896.1 211.5,874.3 219.4,856.5 229.3,838.7 239.2,822.8 247.2,810.9 255.1,802.0 264.0,793.1 268.0,785.2 272.9,773.3 278.9,755.5 286.8,733.7 291.7,717.8 295.7,710.9 302.6,711.9 308.6,717.8 313.5,723.8 318.5,737.6 323.4,755.5 328.4,779.2 332.3,805.0 337.3,818.9 340.3,834.7 346.2,858.5 352.2,882.3 356.1,908.0 361.1,929.8 365.5,957.2 371.1,985.3 377.1,1015.6 383.2,1041.8 387.2,1058.0 393.3,1064.0 399.3,1080.2 405.4,1096.4 411.4,1112.5 417.5,1128.7 423.6,1140.8 431.6,1152.9 437.7,1165.0 445.8,1175.1 453.9,1185.2 461.9,1197.3 470.0,1205.4 474.0,1211.5 478.1,1213.5 484.1,1209.4 490.2,1201.4 498.3,1190.3 506.4,1181.2 514.4,1171.1 522.5,1163.0 530.6,1156.9 536.6,1142.8 542.7,1124.6 548.8,1108.5 556.8,1090.3 562.9,1082.2 569.5,1065.1 574.5,1055.0 578.1,1047.9 582.1,1035.8 586.2,1019.6 590.2,1001.5 593.2,981.3 597.0,962.4 603.7,927.9 609.6,888.3 615.6,848.7 621.5,809.0 627.5,779.3 633.4,749.6 639.4,727.8 645.3,715.9 651.3,705.9 657.2,703.0 663.2,705.0 671.1,709.9 679.0,719.8 685.0,735.7 690.9,751.5 696.9,779.3 702.8,809.0 708.8,848.7 714.7,878.4 720.6,908.1 726.6,931.9 732.5,959.7 737.7,969.1 743.7,981.3 749.8,995.4 753.8,1001.5 761.9,1005.5 770.0,1013.6 776.1,1025.7 781.1,1039.8 784.1,1058.0" fill="none" stroke="#000" stroke-width="3.0" stroke-linejoin="round"/>
</g>
<g clip-path="url(#cf)">
<polyline points="974.9,963.2 976.7,974.1 982.2,991.2 988.3,994.9 999.3,980.2 1002.9,970.5 1011.5,958.3 1015.1,954.6 1018.8,940.0 1019.6,933.8 1025.5,921.9 1033.4,915.9 1039.4,914.9 1045.3,912.0 1051.3,896.1 1057.2,886.2 1065.1,880.3 1071.1,874.3 1077.0,870.4 1083.0,866.4 1090.9,864.4 1094.8,862.4 1098.8,850.6 1102.8,836.7 1106.7,822.8 1110.7,810.9 1114.6,797.1 1118.6,787.2 1124.6,777.3 1130.5,767.4 1138.4,765.4 1144.4,763.4 1150.3,767.4 1156.3,773.3 1162.2,769.3 1168.1,765.4 1172.1,761.4 1176.1,751.5 1181.0,744.6 1185.9,735.7 1191.9,719.8 1199.8,715.8 1209.7,717.8 1217.6,723.8 1225.6,727.7 1229.5,743.6 1237.4,753.5 1245.4,757.4 1253.3,755.5 1259.2,747.5 1267.2,745.6 1271.1,737.6 1277.1,729.7 1283.0,727.7 1289.0,733.7 1296.9,741.6 1304.8,745.6 1314.7,741.6 1322.6,735.7 1330.6,729.7 1338.5,733.7 1346.4,737.6 1354.3,741.6 1362.3,733.7 1368.2,737.6 1374.1,741.6 1380.1,747.5 1385.5,755.5 1390.9,763.4 1396.9,767.4 1404.8,777.3 1412.7,779.3 1420.7,783.2 1424.6,795.1 1428.6,809.0 1434.5,818.9 1442.5,822.8 1448.4,814.9 1452.4,809.0 1458.3,809.0 1464.3,816.9 1470.2,830.8 1476.1,846.6 1481.1,865.4 1486.1,888.2 1492.0,904.1 1497.9,916.0 1505.9,927.9 1513.8,937.8 1521.7,947.7 1527.7,957.6 1534.5,977.2 1540.6,991.4 1546.6,1001.5 1552.7,1017.6 1558.8,1039.9 1564.8,1060.1 1570.9,1076.2 1577.0,1092.4 1583.0,1104.5 1589.1,1122.7 1595.1,1142.9 1599.6,1157.1" fill="none" stroke="#00f" stroke-width="3.0" stroke-dasharray="13.3 12.9" stroke-linejoin="round"/>
<polyline points="974.9,1005.9 977.3,991.2 981.0,976.6 985.9,965.6 990.7,962.0 998.0,963.2 1004.1,968.0 1009.0,974.1 1013.9,966.8 1017.6,955.9 1021.2,947.3 1027.3,941.2 1033.4,931.8 1037.4,921.9 1043.3,915.9 1049.3,912.0 1055.2,910.0 1059.2,910.0 1065.1,898.1 1071.1,886.2 1075.0,876.3 1081.0,864.4 1086.9,856.5 1092.9,850.6 1096.8,838.7 1102.8,820.8 1108.7,818.9 1112.7,810.9 1116.6,797.1 1124.6,791.1 1130.5,787.2 1136.4,777.3 1142.4,769.3 1148.3,767.4 1154.3,761.4 1160.2,753.5 1166.2,751.5 1172.1,749.5 1176.1,745.6 1180.0,749.5 1185.9,755.5 1191.9,747.5 1197.8,747.5 1201.8,755.5 1205.8,765.4 1209.7,783.2 1213.7,799.0 1219.6,820.8 1223.6,838.7 1227.5,856.5 1231.5,878.3 1235.5,898.1 1239.4,915.9 1243.4,929.8 1249.3,931.8 1255.3,937.7 1263.2,945.6 1269.0,954.3 1273.0,962.3 1278.9,975.2 1283.0,991.3 1287.0,1003.5 1295.1,1011.5 1301.2,1013.6 1307.2,1011.5 1313.3,1009.5 1317.3,993.4 1323.4,975.2 1330.0,962.3 1333.5,955.0 1336.5,937.7 1342.4,917.9 1348.4,898.1 1354.3,878.3 1358.3,860.5 1364.2,852.5 1370.2,842.6 1374.1,828.8 1378.1,812.9 1382.1,797.1 1385.5,788.2 1389.0,769.3 1392.9,747.6 1396.9,727.7 1400.9,715.9 1406.8,705.9 1412.7,702.0 1418.7,709.9 1424.6,725.8 1430.6,735.7 1436.5,747.6 1442.5,759.4 1448.4,767.4 1456.3,773.3 1460.3,787.2 1464.3,799.1 1468.2,814.9 1472.2,830.8 1478.1,848.6 1484.1,860.5 1488.0,874.4 1494.0,890.2 1499.9,908.0 1505.9,916.0 1511.8,925.9 1517.8,937.8 1523.7,949.7 1527.7,957.6 1536.5,985.3 1542.6,995.4 1546.6,1007.5 1552.7,1021.7 1558.8,1045.9 1562.8,1058.1 1568.9,1074.2 1574.9,1088.4 1581.0,1100.5 1587.1,1116.6 1591.1,1132.8 1595.1,1149.0 1598.9,1169.2" fill="none" stroke="#f00" stroke-width="3.0" stroke-dasharray="13.3 3.3 6.7 3.3" stroke-linejoin="round"/>
<polyline points="974.9,1032.7 977.3,1019.3 979.8,1001.0 983.4,986.3 988.3,972.9 994.4,958.3 1000.5,952.2 1006.6,947.3 1012.7,951.0 1018.8,954.6 1022.4,943.7 1027.5,935.7 1033.4,925.8 1037.4,913.9 1041.4,896.1 1045.3,882.3 1049.3,868.4 1053.2,854.5 1057.2,840.6 1061.2,826.8 1067.1,816.9 1071.1,812.9 1079.0,809.0 1084.9,810.9 1090.9,805.0 1094.8,791.1 1100.8,775.3 1106.7,761.4 1112.7,749.5 1118.6,747.5 1126.5,745.6 1132.5,746.6 1138.4,741.6 1146.3,731.7 1154.3,719.8 1162.2,727.7 1168.1,733.7 1172.1,745.6 1176.1,757.4 1180.0,778.2 1184.0,803.0 1187.9,822.8 1191.9,842.6 1195.8,862.4 1199.8,882.3 1203.8,898.1 1207.7,913.9 1211.7,933.8 1216.0,952.3 1220.4,967.1 1226.4,985.3 1230.5,1003.5 1234.5,1019.6 1240.6,1035.8 1248.7,1049.9 1254.7,1068.1 1260.8,1084.2 1266.8,1100.4 1272.9,1114.5 1281.0,1120.6 1289.0,1124.6 1299.1,1127.7 1307.2,1118.6 1315.3,1120.6 1323.4,1116.6 1331.5,1104.4 1335.5,1088.3 1339.5,1072.1 1345.6,1058.0 1355.7,1049.9 1359.7,1039.8 1363.8,1023.7 1367.8,1011.5 1373.9,989.3 1377.9,973.2 1381.9,955.0 1385.0,937.8 1389.0,910.0 1394.9,878.3 1400.9,868.4 1406.8,850.6 1412.7,828.8 1418.7,805.0 1422.6,783.2 1428.6,759.4 1434.5,735.7 1440.5,721.8 1444.4,717.8 1452.4,725.8 1458.3,739.6 1464.3,757.5 1470.2,775.3 1476.1,791.1 1482.1,811.0 1488.0,824.8 1494.0,836.7 1499.9,850.6 1505.9,864.5 1511.8,880.3 1517.8,896.2 1523.7,914.0 1529.6,931.8 1535.6,955.6 1540.6,975.2 1546.6,993.4 1552.7,1013.6 1558.8,1033.8 1562.8,1052.0 1566.9,1068.2 1572.9,1084.3 1577.0,1100.5 1581.0,1116.6 1587.1,1128.8 1593.1,1125.7 1599.6,1118.7" fill="none" stroke="#0a7d0a" stroke-width="3.0" stroke-dasharray="3 3.67" stroke-linejoin="round"/>
<polyline points="974.9,1097.3 977.3,1074.1 979.8,1049.8 983.4,1025.4 987.1,1001.0 990.7,982.7 994.4,964.4 999.3,947.3 1002.9,940.0 1005.7,931.8 1010.6,919.9 1013.6,919.9 1019.6,913.9 1026.5,904.0 1031.4,886.2 1035.4,874.3 1039.4,858.5 1043.3,852.5 1049.3,846.6 1055.2,838.7 1059.2,828.8 1062.2,814.9 1067.1,807.0 1071.1,795.1 1077.0,783.2 1082.0,771.3 1084.9,755.5 1087.9,737.6 1092.9,731.7 1098.8,725.8 1104.7,723.8 1110.7,723.8 1114.6,721.8 1120.6,712.9 1126.5,723.8 1132.5,729.7 1138.4,737.6 1142.4,739.6 1146.3,753.5 1150.3,769.3 1154.3,783.2 1158.2,795.1 1164.2,814.9 1168.1,838.7 1172.1,854.5 1176.1,874.3 1180.7,901.4 1185.0,941.4 1189.0,967.4 1194.1,995.4 1198.2,1015.6 1202.2,1035.8 1206.3,1051.9 1210.3,1072.1 1215.3,1092.3 1220.4,1102.4 1226.4,1122.6 1232.5,1136.7 1238.6,1150.9 1246.6,1171.1 1252.7,1177.1 1258.8,1183.2 1264.8,1191.3 1270.9,1187.2 1277.9,1181.2 1285.0,1187.2 1291.1,1195.3 1299.1,1201.4 1305.2,1211.5 1313.3,1213.5 1319.3,1212.5 1325.4,1201.4 1333.5,1185.2 1341.6,1179.2 1347.6,1165.0 1353.7,1144.8 1361.7,1136.7 1365.8,1122.6 1371.8,1112.5 1377.9,1096.4 1381.9,1084.2 1385.5,1072.2 1389.5,1054.0 1394.1,1035.8 1400.2,1019.7 1404.2,995.4 1410.0,963.4 1416.7,937.8 1420.7,914.0 1426.6,896.2 1432.6,874.4 1436.5,852.6 1442.5,824.8 1448.4,807.0 1454.3,785.2 1460.3,759.4 1464.3,745.6 1470.2,733.7 1476.1,729.7 1480.1,731.7 1484.1,745.6 1488.0,749.5 1492.0,755.5 1496.0,763.4 1499.9,781.2 1503.9,799.1 1507.8,814.9 1511.8,818.9 1515.8,830.8 1519.7,842.7 1525.7,858.5 1531.6,876.3 1537.6,898.1 1543.5,918.0 1547.5,937.8 1552.1,965.4 1556.8,991.4 1560.8,1011.6 1564.8,1021.7 1568.9,1039.9 1574.9,1062.1 1581.0,1084.3 1587.1,1104.5 1593.1,1124.7 1598.9,1137.9" fill="none" stroke="#000" stroke-width="3.0" stroke-linejoin="round"/>
</g>
<line x1="186.7" y1="1028.3" x2="219.5" y2="1028.3" stroke="#000" stroke-width="3.0"/>
<line x1="186.7" y1="1061.5" x2="219.5" y2="1061.5" stroke="#0a7d0a" stroke-width="3.0" stroke-dasharray="3 3.67"/>
<line x1="186.7" y1="1094.7" x2="219.5" y2="1094.7" stroke="#f00" stroke-width="3.0" stroke-dasharray="13.3 3.3 6.7 3.3"/>
<line x1="186.7" y1="1127.9" x2="219.5" y2="1127.9" stroke="#00f" stroke-width="3.0" stroke-dasharray="13.3 12.9"/>
<line x1="1007.3" y1="1049.9" x2="1040.1" y2="1049.9" stroke="#000" stroke-width="3.0"/>
<line x1="1007.3" y1="1083.1" x2="1040.1" y2="1083.1" stroke="#0a7d0a" stroke-width="3.0" stroke-dasharray="3 3.67"/>
<line x1="1007.3" y1="1116.3" x2="1040.1" y2="1116.3" stroke="#f00" stroke-width="3.0" stroke-dasharray="13.3 3.3 6.7 3.3"/>
<line x1="1007.3" y1="1149.5" x2="1040.1" y2="1149.5" stroke="#00f" stroke-width="3.0" stroke-dasharray="13.3 12.9"/>
<path d="M574.40,746.70 Q555.47,761.34 527.77,774.37 Q543.33,778.17 549.12,782.91 L486.15,891.72 L492.65,895.48 L555.61,786.66 Q562.60,789.32 573.65,800.91 Q571.14,770.40 574.40,746.70 Z" fill="#000"/>
<path d="M1364.90,735.90 Q1348.84,753.64 1323.86,771.33 Q1339.84,772.34 1346.37,775.98 L1304.17,892.32 L1311.23,894.88 L1353.42,778.54 Q1360.77,779.93 1373.68,789.40 Q1365.86,759.81 1364.90,735.90 Z" fill="#000"/>
<text x="587.32" y="25.1" style="font-family:'Liberation Sans',Arial,sans-serif;font-weight:bold;font-size:32px" textLength="433.56" lengthAdjust="spacingAndGlyphs">Particle Diameter = 3.0 µm</text>
<text x="708.88" y="66.9" style="font-family:'Liberation Sans',Arial,sans-serif;font-weight:bold;font-size:32px" textLength="19.54" lengthAdjust="spacingAndGlyphs">µ</text>
<text x="730.60" y="73.1" style="font-family:'Liberation Sans',Arial,sans-serif;font-weight:bold;font-size:22px" textLength="10.09" lengthAdjust="spacingAndGlyphs">s</text>
<text x="742.10" y="67.5" style="font-family:'Liberation Sans',Arial,sans-serif;font-weight:bold;font-size:32px" textLength="6.85" lengthAdjust="spacingAndGlyphs">&#39;</text>
<text x="758.34" y="66.9" style="font-family:'Liberation Sans',Arial,sans-serif;font-weight:bold;font-size:32px" textLength="118.21" lengthAdjust="spacingAndGlyphs">= 5 mm</text>
<text x="877.40" y="54.0" style="font-family:'Liberation Sans',Arial,sans-serif;font-weight:bold;font-size:21px">-</text>
<text x="884.90" y="54.0" style="font-family:'Liberation Sans',Arial,sans-serif;font-weight:bold;font-size:21px">1</text>
<text x="568.10" y="119.66" style="font-family:'Liberation Sans',Arial,sans-serif;font-weight:bold;font-size:36px" textLength="524.54" lengthAdjust="spacingAndGlyphs">Input Horizontal Polarization</text>
<text x="133.05" y="186.0" style="font-family:'Liberation Sans',Arial,sans-serif;font-weight:bold;font-size:34px" textLength="46.93" lengthAdjust="spacingAndGlyphs">l=0</text>
<text x="491.04" y="186.0" style="font-family:'Liberation Sans',Arial,sans-serif;font-weight:bold;font-size:34px" textLength="47.36" lengthAdjust="spacingAndGlyphs">l=3</text>
<text x="849.55" y="185.6" style="font-family:'Liberation Sans',Arial,sans-serif;font-weight:bold;font-size:34px" textLength="46.93" lengthAdjust="spacingAndGlyphs">l=6</text>
<text x="1207.41" y="185.6" style="font-family:'Liberation Sans',Arial,sans-serif;font-weight:bold;font-size:34px" textLength="47.89" lengthAdjust="spacingAndGlyphs">l=9</text>
<text x="27.50" y="239.6" style="font-family:'Liberation Sans',Arial,sans-serif;font-weight:bold;font-size:31px" textLength="41.76" lengthAdjust="spacingAndGlyphs">(a)</text>
<text x="381.57" y="239.6" style="font-family:'Liberation Sans',Arial,sans-serif;font-weight:bold;font-size:31px" textLength="44.83" lengthAdjust="spacingAndGlyphs">(b)</text>
<text x="741.65" y="239.6" style="font-family:'Liberation Sans',Arial,sans-serif;font-weight:bold;font-size:31px" textLength="39.74" lengthAdjust="spacingAndGlyphs">(c)</text>
<text x="1102.77" y="239.6" style="font-family:'Liberation Sans',Arial,sans-serif;font-weight:bold;font-size:31px" textLength="44.73" lengthAdjust="spacingAndGlyphs">(d)</text>
<text x="1215.70" y="491.9" style="font-family:'Liberation Sans',Arial,sans-serif;font-weight:bold;font-size:33px" textLength="117.39" lengthAdjust="spacingAndGlyphs">3.1 mm</text>
<text x="1457.76" y="215.0" style="font-family:'Liberation Sans',Arial,sans-serif;font-weight:bold;font-size:33.5px" textLength="46.12" lengthAdjust="spacingAndGlyphs">0.5</text>
<text x="1457.76" y="377.75" style="font-family:'Liberation Sans',Arial,sans-serif;font-weight:bold;font-size:33.5px" textLength="64.87" lengthAdjust="spacingAndGlyphs">0.35</text>
<text x="1457.75" y="540.5" style="font-family:'Liberation Sans',Arial,sans-serif;font-weight:bold;font-size:33.5px" textLength="46.63" lengthAdjust="spacingAndGlyphs">0.2</text>
<text x="232.47" y="688.75" style="font-family:'Liberation Sans',Arial,sans-serif;font-weight:bold;font-size:33px" textLength="476.77" lengthAdjust="spacingAndGlyphs">Input Horizontal Polarization</text>
<text x="1028.38" y="688.75" style="font-family:'Liberation Sans',Arial,sans-serif;font-weight:bold;font-size:33px" textLength="508.84" lengthAdjust="spacingAndGlyphs">Input Left Circular Polarization</text>
<text x="65.59" y="787.8" style="font-family:'Liberation Sans',Arial,sans-serif;font-weight:bold;font-size:33px" textLength="65.07" lengthAdjust="spacingAndGlyphs">0.45</text>
<text x="65.59" y="985.0" style="font-family:'Liberation Sans',Arial,sans-serif;font-weight:bold;font-size:33px" textLength="65.07" lengthAdjust="spacingAndGlyphs">0.35</text>
<text x="65.59" y="1182.1" style="font-family:'Liberation Sans',Arial,sans-serif;font-weight:bold;font-size:33px" textLength="65.07" lengthAdjust="spacingAndGlyphs">0.25</text>
<text x="898.48" y="812.9" style="font-family:'Liberation Sans',Arial,sans-serif;font-weight:bold;font-size:33px" textLength="46.68" lengthAdjust="spacingAndGlyphs">0.6</text>
<text x="880.69" y="950.8" style="font-family:'Liberation Sans',Arial,sans-serif;font-weight:bold;font-size:33px" textLength="64.87" lengthAdjust="spacingAndGlyphs">0.55</text>
<text x="898.48" y="1088.3" style="font-family:'Liberation Sans',Arial,sans-serif;font-weight:bold;font-size:33px" textLength="46.68" lengthAdjust="spacingAndGlyphs">0.5</text>
<text x="880.69" y="1226.0" style="font-family:'Liberation Sans',Arial,sans-serif;font-weight:bold;font-size:33px" textLength="64.87" lengthAdjust="spacingAndGlyphs">0.45</text>
<text x="203.44" y="1257.7" style="font-family:'Liberation Sans',Arial,sans-serif;font-weight:bold;font-size:33px" textLength="28.31" lengthAdjust="spacingAndGlyphs">-5</text>
<text x="462.74" y="1257.7" style="font-family:'Liberation Sans',Arial,sans-serif;font-weight:bold;font-size:33px" textLength="19.50" lengthAdjust="spacingAndGlyphs">0</text>
<text x="716.27" y="1257.7" style="font-family:'Liberation Sans',Arial,sans-serif;font-weight:bold;font-size:33px" textLength="18.89" lengthAdjust="spacingAndGlyphs">5</text>
<text x="1016.62" y="1257.7" style="font-family:'Liberation Sans',Arial,sans-serif;font-weight:bold;font-size:33px" textLength="28.72" lengthAdjust="spacingAndGlyphs">-5</text>
<text x="1276.33" y="1257.7" style="font-family:'Liberation Sans',Arial,sans-serif;font-weight:bold;font-size:33px" textLength="19.73" lengthAdjust="spacingAndGlyphs">0</text>
<text x="1529.79" y="1257.7" style="font-family:'Liberation Sans',Arial,sans-serif;font-weight:bold;font-size:33px" textLength="18.57" lengthAdjust="spacingAndGlyphs">5</text>
<text x="405.50" y="1305.5" style="font-family:'Liberation Sans',Arial,sans-serif;font-weight:bold;font-size:36px" textLength="800.55" lengthAdjust="spacingAndGlyphs">Transverse distance from beam centre (mm)</text>
<text x="173.89" y="752.8" style="font-family:'Liberation Sans',Arial,sans-serif;font-weight:bold;font-size:31px" textLength="41.97" lengthAdjust="spacingAndGlyphs">(e)</text>
<text x="992.96" y="753.5" style="font-family:'Liberation Sans',Arial,sans-serif;font-weight:bold;font-size:31px" textLength="35.24" lengthAdjust="spacingAndGlyphs">(f)</text>
<text x="222.55" y="1039.8" style="font-family:'Liberation Sans',Arial,sans-serif;font-weight:bold;font-size:30px" textLength="57.72" lengthAdjust="spacingAndGlyphs">l = 9</text>
<text x="1042.45" y="1061.3999999999999" style="font-family:'Liberation Sans',Arial,sans-serif;font-weight:bold;font-size:30px" textLength="57.72" lengthAdjust="spacingAndGlyphs">l = 9</text>
<text x="222.55" y="1073.0" style="font-family:'Liberation Sans',Arial,sans-serif;font-weight:bold;font-size:30px" textLength="57.72" lengthAdjust="spacingAndGlyphs">l = 6</text>
<text x="1042.45" y="1094.6" style="font-family:'Liberation Sans',Arial,sans-serif;font-weight:bold;font-size:30px" textLength="57.72" lengthAdjust="spacingAndGlyphs">l = 6</text>
<text x="222.55" y="1106.2" style="font-family:'Liberation Sans',Arial,sans-serif;font-weight:bold;font-size:30px" textLength="57.72" lengthAdjust="spacingAndGlyphs">l = 3</text>
<text x="1042.45" y="1127.8" style="font-family:'Liberation Sans',Arial,sans-serif;font-weight:bold;font-size:30px" textLength="57.72" lengthAdjust="spacingAndGlyphs">l = 3</text>
<text x="222.55" y="1139.3999999999999" style="font-family:'Liberation Sans',Arial,sans-serif;font-weight:bold;font-size:30px" textLength="57.72" lengthAdjust="spacingAndGlyphs">l = 0</text>
<text x="1042.45" y="1160.9999999999998" style="font-family:'Liberation Sans',Arial,sans-serif;font-weight:bold;font-size:30px" textLength="57.72" lengthAdjust="spacingAndGlyphs">l = 0</text>
<text transform="translate(37.40,1153.70) rotate(-90.00)" style="font-family:'Liberation Sans',Arial,sans-serif;font-weight:bold;font-size:36px" textLength="398.69" lengthAdjust="spacingAndGlyphs">Degree of Polarization</text>
<text transform="translate(1555.00,541.78) rotate(-90.00)" style="font-family:'Liberation Sans',Arial,sans-serif;font-weight:bold;font-size:33px" textLength="362.49" lengthAdjust="spacingAndGlyphs">Degree of Polarization</text>
<text transform="translate(452.15,882.99) rotate(-59.63)" style="font-family:'Liberation Sans',Arial,sans-serif;font-weight:bold;font-size:32.5px" textLength="187.31" lengthAdjust="spacingAndGlyphs">Increasing l</text>
<text transform="translate(1268.68,890.84) rotate(-69.60)" style="font-family:'Liberation Sans',Arial,sans-serif;font-weight:bold;font-size:32.5px" textLength="186.61" lengthAdjust="spacingAndGlyphs">Increasing l</text>
</svg>
</body></html>
